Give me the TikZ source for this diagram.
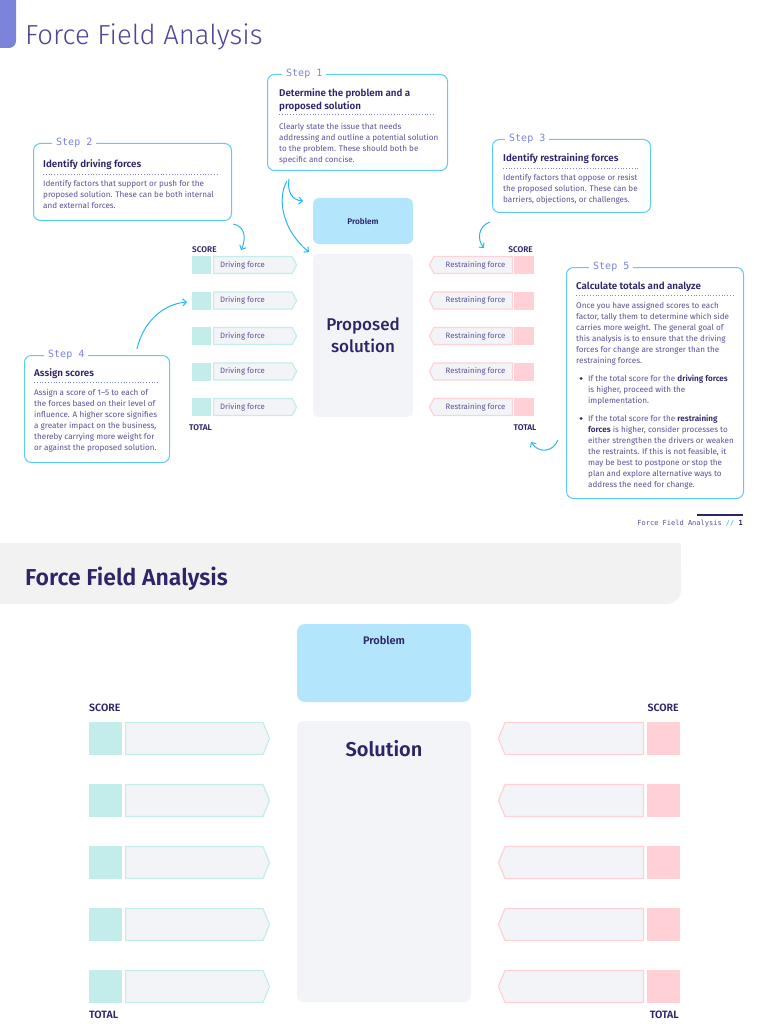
\documentclass[tikz,border=0pt]{standalone}
\usepackage{fontspec}
\setmainfont{Fira Sans}[BoldFont={Fira Sans SemiBold}]
\newfontfamily\lightfont{Fira Sans Light}
\newfontfamily\mediumfont{Fira Sans Medium}
\setmonofont{DejaVu Sans Mono}
\usetikzlibrary{arrows.meta,shapes.symbols}

\definecolor{inkdark}{HTML}{2E2568}
\definecolor{inkbody}{HTML}{5A5197}
\definecolor{titleink}{HTML}{4D4596}
\definecolor{tabblue}{HTML}{7C83DB}
\definecolor{stepblue}{HTML}{5CCBF5}
\definecolor{steppurple}{HTML}{7C83DB}
\definecolor{arrowblue}{HTML}{29B6F6}
\definecolor{probfill}{HTML}{B3E5FC}
\definecolor{panelgray}{HTML}{F3F4F8}
\definecolor{drivecol}{HTML}{C2EDEA}
\definecolor{restraincol}{HTML}{FFD0D5}
\definecolor{bannergray}{HTML}{F2F2F2}

\begin{document}
\begin{tikzpicture}[x=1pt,y=-1pt,
  stepbox/.style={draw=stepblue,line width=1pt,rounded corners=7pt,fill=white,inner sep=0pt,anchor=north west},
  steplabel/.style={fill=white,text=steppurple,font=\ttfamily\fontsize{10}{11}\selectfont,inner xsep=4pt,inner ysep=1pt,anchor=west},
  steptitle/.style={text=inkdark,font=\bfseries\fontsize{9.8}{13}\selectfont,align=left,anchor=north west,inner sep=0pt},
  stepbody/.style={text=inkbody,font=\fontsize{8.1}{11}\selectfont,align=left,anchor=north west,inner sep=0pt},
  bulletdot/.style={circle,fill=inkdark,inner sep=0pt,minimum size=3pt},
  dotline/.style={steppurple,line width=0.8pt,dash pattern=on 0.7pt off 2.1pt},
  flow/.style={arrowblue,line width=1pt,-{Straight Barb[length=3.5pt,width=7pt]}},
  dscore/.style={fill=drivecol,inner sep=0pt},
  rscore/.style={fill=restraincol,inner sep=0pt},
  dforce/.style={signal,signal to=east,signal pointer angle=125,draw=drivecol,fill=panelgray,line width=1.2pt,inner sep=0pt,anchor=west},
  rforce/.style={signal,signal to=west,signal pointer angle=125,draw=restraincol,fill=panelgray,line width=1.2pt,inner sep=0pt,anchor=east},
  forcetxt/.style={text=inkbody,font=\fontsize{7.8}{9}\selectfont,inner sep=0pt},
  capslabel/.style={text=inkdark,font=\bfseries\fontsize{8.3}{9}\selectfont,inner sep=0pt},
  bigcaps/.style={capslabel,font=\bfseries\fontsize{10.6}{12}\selectfont}]
\useasboundingbox (0,0) rectangle (768,1024);

% page 1 heading
\fill[tabblue,rounded corners=7pt] (-12,-12) rectangle (16,48);
\node[anchor=base west,inner sep=0pt,text=titleink,font=\lightfont\fontsize{27.5}{32}\selectfont] (head) at (25,45) {Force Field Analysis};

% step 1
\node[stepbox,minimum width=180pt,minimum height=96pt] (s1) at (267,74) {};
\node[steplabel] (s1lab) at (282,74) {Step 1};
\node[steptitle] (s1tit) at (279,88) {Determine the problem and a\\proposed solution};
\draw[dotline] (279,114) -- (435,114);
\node[stepbody] (s1txt) at (279,122.5) {Clearly state the issue that needs\\addressing and outline a potential solution\\to the problem. These should both be\\specific and concise.};

% step 2
\node[stepbox,minimum width=198pt,minimum height=77pt] (s2) at (33,143) {};
\node[steplabel] (s2lab) at (52,143) {Step 2};
\node[steptitle] (s2tit) at (43,159) {Identify driving forces};
\draw[dotline] (43,174) -- (217,174);
\node[stepbody] (s2txt) at (43,180) {Identify factors that support or push for the\\proposed solution. These can be both internal\\and external forces.};

% step 3
\node[stepbox,minimum width=158pt,minimum height=73pt] (s3) at (492,139) {};
\node[steplabel] (s3lab) at (505,139) {Step 3};
\node[steptitle] (s3tit) at (503,153) {Identify restraining forces};
\draw[dotline] (503,168) -- (640,168);
\node[stepbody] (s3txt) at (503,174) {Identify factors that oppose or resist\\the proposed solution. These can be\\barriers, objections, or challenges.};

% step 4
\node[stepbox,minimum width=145pt,minimum height=107pt] (s4) at (24,355) {};
\node[steplabel] (s4lab) at (44,355) {Step 4};
\node[steptitle] (s4tit) at (34,368) {Assign scores};
\draw[dotline] (34,382) -- (160,382);
\node[stepbody] (s4txt) at (34,389) {Assign a score of 1--5 to each of\\the forces based on their level of\\influence. A higher score signifies\\a greater impact on the business,\\thereby carrying more weight for\\or against the proposed solution.};

% step 5
\node[stepbox,minimum width=177pt,minimum height=231pt] (s5) at (566,267) {};
\node[steplabel] (s5lab) at (589,267) {Step 5};
\node[steptitle] (s5tit) at (576,282) {Calculate totals and analyze};
\draw[dotline] (576,295) -- (733,295);
\node[stepbody] (s5txt) at (576,301.5) {Once you have assigned scores to each\\factor, tally them to determine which side\\carries more weight. The general goal of\\this analysis is to ensure that the driving\\forces for change are stronger than the\\restraining forces.};
\node[bulletdot] (dot1) at (581,378.5) {};
\node[stepbody] (s5b1) at (588,375) {If the total score for the \textbf{\color{inkdark}driving forces}\\is higher, proceed with the\\implementation.};
\node[bulletdot] (dot2) at (581,418.5) {};
\node[stepbody] (s5b2) at (588,415) {If the total score for the \textbf{\color{inkdark}restraining}\\\textbf{\color{inkdark}forces} is higher, consider processes to\\either strengthen the drivers or weaken\\the restraints. If this is not feasible, it\\may be best to postpone or stop the\\plan and explore alternative ways to\\address the need for change.};

% problem and solution
\node[fill=probfill,rounded corners=6pt,minimum width=100pt,minimum height=46pt,text=inkdark,font=\bfseries\fontsize{8.2}{10}\selectfont] (prob) at (363,221) {Problem};
\node[fill=panelgray,rounded corners=5pt,minimum width=100pt,minimum height=163pt,text=inkdark,align=center,font=\mediumfont\fontsize{17}{22}\selectfont] (sol) at (363,335.5) {Proposed\\solution};

% forces
\node[capslabel,anchor=west] (dsc) at (192,250) {SCORE};
\node[capslabel,anchor=east] (rsc) at (533,250) {SCORE};
\foreach \y [count=\i] in {265,300.5,336,371.5,407} {
  \node[dscore,minimum width=19pt,minimum height=18pt] (ds\i) at (201.5,\y) {};
  \node[dforce,minimum width=83pt,minimum height=17pt] (df\i) at (213,\y) {};
  \node[forcetxt,anchor=west] (dt\i) at ([xshift=7pt]df\i.west) {Driving force};
  \node[rforce,minimum width=83pt,minimum height=17pt] (rf\i) at (513,\y) {};
  \node[rscore,minimum width=20pt,minimum height=18pt] (rs\i) at (524,\y) {};
  \node[forcetxt] (rt\i) at (475.5,\y) {Restraining force};
}
\node[capslabel,anchor=west] (dtot) at (189,428) {TOTAL};
\node[capslabel] (rtot) at (525,428) {TOTAL};

% curved arrows
\coordinate (a1s) at (289,179);
\coordinate (a1e) at (303,201);
\coordinate (a2s) at (287,181);
\coordinate (a2e) at (309,252);
\coordinate (a3s) at (233,224);
\coordinate (a3e) at (241,250);
\coordinate (a4s) at (490,222);
\coordinate (a4e) at (484,248);
\coordinate (a5s) at (137,349);
\coordinate (a5e) at (187,302);
\coordinate (a6s) at (558,440);
\coordinate (a6e) at (531,442);
\draw[flow] (a1s) .. controls (287,192) and (292,200) .. (a1e);
\draw[flow] (a2s) .. controls (276,200) and (284,232) .. (a2e);
\draw[flow] (a3s) .. controls (246,226) and (246,240) .. (a3e);
\draw[flow] (a4s) .. controls (478,226) and (477,240) .. (a4e);
\draw[flow] (a5s) .. controls (143,322) and (163,304) .. (a5e);
\draw[flow] (a6s) .. controls (553,452) and (539,454) .. (a6e);

% footer
\coordinate (fl1) at (697,515);
\coordinate (fl2) at (743,515);
\draw[inkdark,line width=2pt] (fl1) -- (fl2);
\node[anchor=east,inner sep=0pt,font=\ttfamily\fontsize{7}{8}\selectfont,text=inkbody] (foot) at (743,524) {Force Field Analysis {\color{arrowblue}//} {\bfseries\color{inkdark}1}};

% page 2 banner
\fill[bannergray] (-20,543) rectangle (681,580);
\fill[bannergray,rounded corners=14pt] (-20,560) rectangle (681,604);
\node[anchor=base west,inner sep=0pt,text=inkdark,font=\bfseries\fontsize{23}{26}\selectfont] (head2) at (25,585) {Force Field Analysis};

% page 2 worksheet
\node[fill=probfill,rounded corners=8pt,minimum width=174pt,minimum height=78pt] (prob2) at (384,663) {};
\node[inner sep=0pt,text=inkdark,font=\bfseries\fontsize{11}{12}\selectfont] (probtxt) at (384,640) {Problem};
\node[fill=panelgray,rounded corners=6pt,minimum width=174pt,minimum height=281pt] (sol2) at (384,861.5) {};
\node[inner sep=0pt,text=inkdark,font=\bfseries\fontsize{20}{22}\selectfont] (soltxt) at (384,749) {Solution};
\node[bigcaps,anchor=west] (dsc2) at (89,708) {SCORE};
\node[bigcaps,anchor=east] (rsc2) at (679,708) {SCORE};
\foreach \y [count=\i] in {738.5,800.5,862.5,924.5,986.5} {
  \node[dscore,minimum size=33pt] (ws\i) at (105.5,\y) {};
  \node[dforce,signal pointer angle=135,minimum width=144pt,minimum height=32pt] (wd\i) at (125,\y) {};
  \node[rforce,signal pointer angle=135,minimum width=145pt,minimum height=32pt] (wr\i) at (644,\y) {};
  \node[rscore,minimum size=33pt] (wq\i) at (663.5,\y) {};
}
\node[bigcaps,anchor=west] (dtot2) at (89,1015) {TOTAL};
\node[bigcaps,anchor=east] (rtot2) at (679,1015) {TOTAL};
\end{tikzpicture}
\end{document}
